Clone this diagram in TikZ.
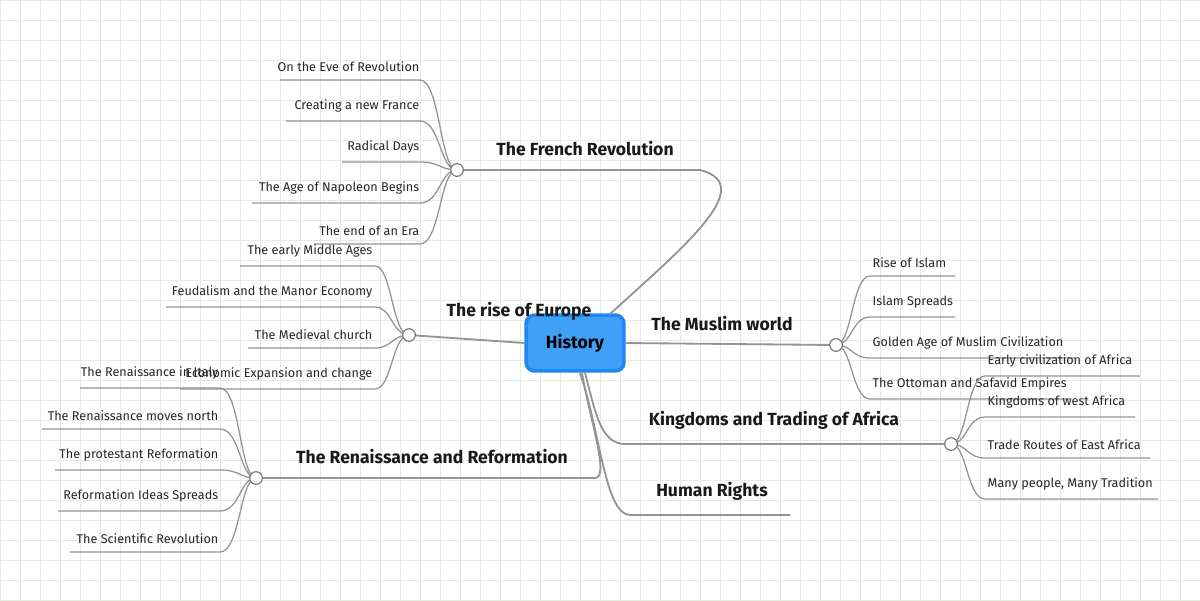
\documentclass[tikz,border=0pt]{standalone}
\usepackage{fontspec}
\setmainfont{Fira Sans}
\definecolor{cfill}{HTML}{3FA0F8}
\definecolor{cdraw}{HTML}{1E88F0}
\definecolor{gridc}{HTML}{E4ECDC}
\begin{document}
\begin{tikzpicture}[x=0.025cm,y=-0.025cm,
  br/.style={draw=black!42,line width=1.3pt},
  sb/.style={draw=black!42,line width=0.9pt},
  hub/.style={circle,draw=black!55,fill=white,line width=0.8pt,inner sep=0pt,minimum size=9pt},
  lab/.style={font=\fontsize{9}{10}\selectfont,text=black!85,inner sep=1pt},
  ttl/.style={font=\bfseries\fontsize{12.5}{14}\selectfont,text=black!90,inner sep=1pt}]
\useasboundingbox (0,0) rectangle (1200,600);
\fill[white] (0,0) rectangle (1200,600);
\foreach \i in {0,20,...,1200} \draw[gridc,line width=0.4pt] (\i,0) -- (\i,600);
\foreach \i in {0,20,...,600} \draw[gridc,line width=0.4pt] (0,\i) -- (1200,\i);
% center
\node[draw=cdraw,line width=2.5pt,fill=cfill,rounded corners=6pt,minimum width=98pt*0.71,minimum height=56pt*0.71,font=\bfseries\fontsize{12.5}{14}\selectfont] (c) at (575,343) {History};
% hubs
\coordinate (h1) at (457,170);
\coordinate (h2) at (409,335);
\coordinate (h3) at (256,478);
\coordinate (h4) at (836,345);
\coordinate (h5) at (951,444);
\coordinate (hr) at (790,515);
% main branches
\draw[br] (610,314) .. controls (680,250) and (760,185) .. (700,170) -- (h1);
\draw[br] (c.west) -- (h2);
\draw[br] (582,373) .. controls (590,420) and (610,478) .. (595,478) -- (h3);
\draw[br] (c.east) -- (h4);
\draw[br] (585,373) .. controls (595,410) and (600,444) .. (625,444) -- (h5);
\draw[br] (580,373) .. controls (600,430) and (605,515) .. (630,515) -- (hr);
\node[ttl,anchor=south] (t1) at (585,157) {The French Revolution};
\node[ttl,anchor=south] (t2) at (519,322) {The rise of Europe};
\node[ttl,anchor=south] (t3) at (432,465) {The Renaissance and Reformation};
\node[ttl,anchor=south] (t4) at (722,332) {The Muslim world};
\node[ttl,anchor=south] (t5) at (774,431) {Kingdoms and Trading of Africa};
\node[ttl,anchor=south] (t6) at (712,502) {Human Rights};
\foreach \y/\x/\t in {80/280/On the Eve of Revolution,121/286/Creating a new France,162/342/Radical Days,203/252/The Age of Napoleon Begins,244/314/The end of an Era}{
  \draw[sb] (h1) .. controls (440,170) and (440,\y) .. (420,\y) -- (\x,\y);
  \node[lab,anchor=south east] at (421,\y-7) {\t};}
\foreach \y/\x/\t in {266/240/The early Middle Ages,307/166/Feudalism and the Manor Economy,348/248/The Medieval church,389/180/Economic Expansion and change}{
  \draw[sb] (h2) .. controls (392,335) and (392,\y) .. (375,\y) -- (\x,\y);
  \node[lab,anchor=south east] at (374,\y-7) {\t};}
\foreach \y/\x/\t in {388/80/The Renaissance in Italy,429/42/The Renaissance moves north,470/55/The protestant Reformation,511/58/Reformation Ideas Spreads,552/70/The Scientific Revolution}{
  \draw[sb] (h3) .. controls (240,478) and (240,\y) .. (220,\y) -- (\x,\y);
  \node[lab,anchor=south east] at (220,\y-7) {\t};}
\foreach \y/\x/\t in {276/955/Rise of Islam,317/955/Islam Spreads,358/1075/Golden Age of Muslim Civilization,399/1070/The Ottoman and Safavid Empires}{
  \draw[sb] (h4) .. controls (852,345) and (852,\y) .. (870,\y) -- (\x,\y);
  \node[lab,anchor=south west] at (871,\y-7) {\t};}
\foreach \y/\x/\t in {376/1140/Early civilization of Africa,417/1135/Kingdoms of west Africa,458/1150/Trade Routes of East Africa,499/1158/Many people{,} Many Tradition}{
  \draw[sb] (h5) .. controls (967,444) and (967,\y) .. (985,\y) -- (\x,\y);
  \node[lab,anchor=south west] at (986,\y-7) {\t};}
\foreach \h in {h1,h2,h3,h4,h5} \node[hub] at (\h) {};
\end{tikzpicture}
\end{document}
